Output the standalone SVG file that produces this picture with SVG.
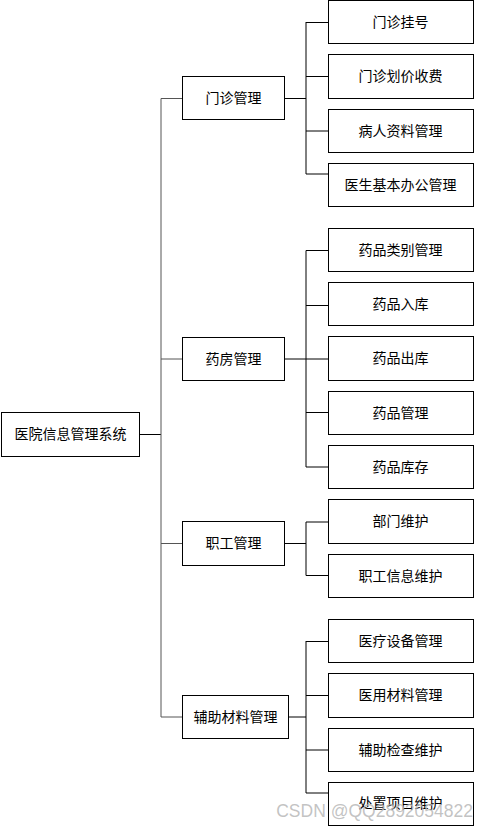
<svg xmlns="http://www.w3.org/2000/svg" width="488" height="829" viewBox="0 0 488 829">
<style>
rect{fill:#fff;stroke:#000;stroke-width:1}
text{font-family:"Noto Sans CJK SC","Noto Sans",sans-serif;font-size:14px;fill:#000;text-anchor:middle;dominant-baseline:central}
.c{fill:none;stroke:#000;stroke-width:1}
.t{stroke:#555}
.wm{font-family:"Liberation Sans",Arial,sans-serif;font-size:17.5px;fill:#b8b8b8;fill-opacity:0.85;text-anchor:end;dominant-baseline:alphabetic}
</style>
<rect x="0" y="0" width="488" height="829" style="fill:#fff;stroke:none"/>
<g id="connectors">
<path class="c" d="M139.5 434.5H161"/>
<path class="c t" d="M161 98.5V717M161 98.5H182M161 359H182M161 543.5H182M161 717H182"/>
<path class="c" d="M284 98.5H306M306 22V174M306 22.5H328M306 76.5H328M306 131H328M306 174H328"/>
<path class="c" d="M284 359H306M306 250.5V467M306 250.5H328M306 305.5H328M306 359H328M306 412.5H328M306 467H328"/>
<path class="c" d="M284 543.5H306M306 522V575.5M306 522H328M306 575.5H328"/>
<path class="c" d="M288 717H306M306 641V793M306 641.5H328M306 695.5H328M306 750H328M306 793H328"/>
</g>
<g id="root"><rect x="1.5" y="412.5" width="138" height="44"/><text x="70.5" y="433">医院信息管理系统</text></g>
<g id="m1"><rect x="182.5" y="76.5" width="102" height="43"/><text x="233.5" y="96.5">门诊管理</text></g>
<g id="m2"><rect x="182.5" y="337.5" width="102" height="43"/><text x="233.5" y="357.5">药房管理</text></g>
<g id="m3"><rect x="182.5" y="521.5" width="102" height="44"/><text x="233.5" y="542">职工管理</text></g>
<g id="m4"><rect x="182.5" y="695.5" width="106" height="43"/><text x="235.5" y="715.5">辅助材料管理</text></g>
<g id="l1"><rect x="328.5" y="0.5" width="145" height="43"/><text x="400.5" y="20.5">门诊挂号</text></g>
<g id="l2"><rect x="328.5" y="54.5" width="145" height="44"/><text x="400.5" y="75">门诊划价收费</text></g>
<g id="l3"><rect x="328.5" y="109.5" width="145" height="43"/><text x="400.5" y="129.5">病人资料管理</text></g>
<g id="l4"><rect x="328.5" y="163.5" width="145" height="43"/><text x="400.5" y="183.5">医生基本办公管理</text></g>
<g id="l5"><rect x="328.5" y="228.5" width="145" height="43"/><text x="400.5" y="248.5">药品类别管理</text></g>
<g id="l6"><rect x="328.5" y="282.5" width="145" height="43"/><text x="400.5" y="302.5">药品入库</text></g>
<g id="l7"><rect x="328.5" y="336.5" width="145" height="44"/><text x="400.5" y="357">药品出库</text></g>
<g id="l8"><rect x="328.5" y="391.5" width="145" height="43"/><text x="400.5" y="411.5">药品管理</text></g>
<g id="l9"><rect x="328.5" y="445.5" width="145" height="43"/><text x="400.5" y="465.5">药品库存</text></g>
<g id="l10"><rect x="328.5" y="499.5" width="145" height="44"/><text x="400.5" y="519.5">部门维护</text></g>
<g id="l11"><rect x="328.5" y="554.5" width="145" height="43"/><text x="400.5" y="574.5">职工信息维护</text></g>
<g id="l12"><rect x="328.5" y="619.5" width="145" height="43"/><text x="400.5" y="639.5">医疗设备管理</text></g>
<g id="l13"><rect x="328.5" y="673.5" width="145" height="44"/><text x="400.5" y="694">医用材料管理</text></g>
<g id="l14"><rect x="328.5" y="728.5" width="145" height="43"/><text x="400.5" y="748.5">辅助检查维护</text></g>
<g id="l15"><rect x="328.5" y="782.5" width="145" height="43"/><text x="400.5" y="801.5">处置项目维护</text></g>
<text class="wm" x="473" y="816.5">CSDN @QQ2892054822</text>
</svg>
